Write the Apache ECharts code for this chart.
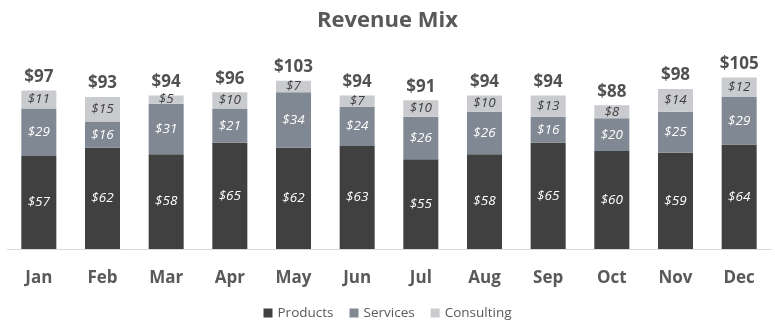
<!DOCTYPE html>
<html><head><meta charset="utf-8">
<script src="https://cdn.jsdelivr.net/npm/echarts@6/dist/echarts.min.js"></script>
<style>html,body{margin:0;padding:0;background:#fff}#c{width:775px;height:328px}</style>
</head><body><div id="c"></div>
<script>
const months = ['Jan','Feb','Mar','Apr','May','Jun','Jul','Aug','Sep','Oct','Nov','Dec'];
const products = [57,62,58,65,62,63,55,58,65,60,59,64];
const services = [29,16,31,21,34,24,26,26,16,20,25,29];
const consulting = [11,15,5,10,7,7,10,10,13,8,14,12];
const totals = [97,93,94,96,103,94,91,94,94,88,98,105];

const FONT = '"Open Sans", "Noto Sans", sans-serif';
const chart = echarts.init(document.getElementById('c'));
const segLabel = (color) => ({
  show: true, position: 'inside', formatter: p => '$' + p.value,
  fontFamily: FONT, fontStyle: 'italic', fontSize: 13.5, color: color
});
chart.setOption({
  animation: false,
  title: { text: 'Revenue Mix', left: 'center', top: 5,
    textStyle: { fontFamily: FONT, fontWeight: 'bold', fontSize: 22, color: '#595959' } },
  legend: { bottom: 3, left: 'center', itemWidth: 9, itemHeight: 9, itemGap: 16,
    icon: 'rect',
    textStyle: { fontFamily: FONT, fontSize: 13.5, color: '#595959' },
    data: ['Products','Services','Consulting'] },
  grid: { left: 7, right: 4, top: 53, bottom: 79, containLabel: false },
  xAxis: { type: 'category', data: months,
    axisLine: { lineStyle: { color: '#d9d9d9', width: 1 } },
    axisTick: { show: false },
    axisLabel: { fontFamily: FONT, fontWeight: 'bold', fontSize: 17, color: '#595959', margin: 21 } },
  yAxis: { type: 'value', min: 0, max: 120, show: false, splitLine: { show: false } },
  series: [
    { name: 'Products', type: 'bar', stack: 'a', data: products, barWidth: '55%',
      itemStyle: { color: '#404040' }, label: segLabel('#ffffff') },
    { name: 'Services', type: 'bar', stack: 'a', data: services,
      itemStyle: { color: '#7f8893' }, label: segLabel('#ffffff') },
    { name: 'Consulting', type: 'bar', stack: 'a', data: consulting,
      itemStyle: { color: '#c9cbce' }, label: segLabel('#404040') },
    { name: 'Total', type: 'scatter', data: totals, symbolSize: 0, silent: true,
      label: { show: true, position: 'top', distance: 5, formatter: p => '$' + p.value,
        fontFamily: FONT, fontWeight: 'bold', fontSize: 17, color: '#262626' } }
  ]
});
</script></body></html>
